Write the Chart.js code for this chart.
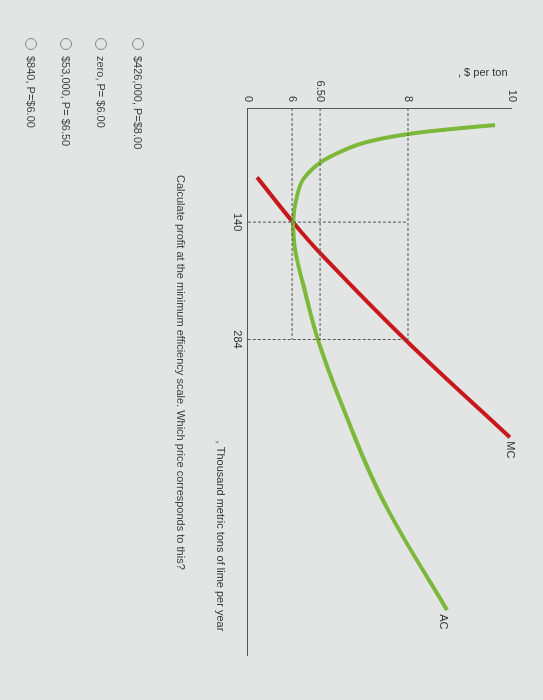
<!DOCTYPE html>
<html><head><meta charset="utf-8">
<script src="https://cdn.jsdelivr.net/npm/chart.js@4"></script>
<style>
html,body{margin:0;padding:0;background:#e3e4e4;width:543px;height:700px;overflow:hidden;font-family:"Liberation Sans",Arial,sans-serif;}
#frame{position:absolute;left:0;top:0;width:700px;height:543px;transform-origin:0 0;transform:translate(543px,0) rotate(90deg);}
#c{position:absolute;left:0;top:0;}
.t{position:absolute;white-space:nowrap;color:#3a3a3a;font-size:11px;}
.o{position:absolute;white-space:nowrap;color:#444;font-size:11px;}
.o span{display:inline-block;width:10px;height:10px;border:1px solid #888;border-radius:50%;margin-right:6px;vertical-align:-2px;}
#ptitle{position:absolute;left:458px;top:66px;font-size:11px;color:#333;}
</style></head><body>
<div id="frame">
<canvas id="c" width="700" height="543"></canvas>
<div class="t" style="left:175px;top:356px">Calculate profit at the minimum efficiency scale. Which price corresponds to this?</div>
<div class="o" style="left:38px;top:399px"><span></span>$426,000, P=$8.00</div>
<div class="o" style="left:38px;top:436px"><span></span>zero, P= $6.00</div>
<div class="o" style="left:38px;top:471px"><span></span>$53,000, P= $6.50</div>
<div class="o" style="left:38px;top:506px"><span></span>$840, P=$6.00</div>
</div>
<div id="ptitle">, $ per ton</div>
<script>
// quantity (thousand metric tons) and price positions
const mcQ = [85, 140, 178, 284, 404];
const mcP = [0.34, 1.70, 2.73, 5.95, 9.92];
const acQ = [21, 24.5, 32, 43, 58, 70, 88, 109, 134, 150, 180, 220, 284, 358, 481, 616];
const acP = [9.36, 8.14, 6.06, 4.36, 3.22, 2.61, 2.08, 1.85, 1.72, 1.71, 1.82, 2.12, 2.65, 3.48, 5.11, 7.54];
const priceTickPos = [0, 1.67, 2.73, 6.06, 10];
const priceTickLabels = ['0', '6', '6.50', '8', '10'];
const qTicks = [140, 284];
const qLabels = ['140', '284'];
const qMax = 671;
const pMax = 10;

const pts = (xs, ys) => xs.map((x, i) => ({x, y: ys[i]}));
const dash = (a, b) => ({data: [a, b], borderColor: '#555', borderWidth: 1, borderDash: [3, 2], pointRadius: 0, showLine: true, fill: false});

const guides = [
  dash({x: 0, y: priceTickPos[3]}, {x: qTicks[1], y: priceTickPos[3]}),
  dash({x: qTicks[0], y: 0}, {x: qTicks[0], y: priceTickPos[3]}),
  dash({x: qTicks[1], y: -0.2}, {x: qTicks[1], y: priceTickPos[3]}),
  dash({x: 0, y: priceTickPos[1]}, {x: qTicks[1], y: priceTickPos[1]}),
  dash({x: 0, y: priceTickPos[2]}, {x: qTicks[1], y: priceTickPos[2]})
];

const endLabels = {
  id: 'endLabels',
  afterDatasetsDraw(ch) {
    const {ctx, scales: {x, y}} = ch;
    ctx.save();
    ctx.fillStyle = '#333';
    ctx.font = '11px "Liberation Sans", Arial, sans-serif';
    ctx.textAlign = 'left';
    ctx.textBaseline = 'middle';
    ctx.fillText('MC', x.getPixelForValue(mcQ[mcQ.length - 1]) + 4, y.getPixelForValue(mcP[mcP.length - 1]));
    ctx.fillText('AC', x.getPixelForValue(acQ[acQ.length - 1]) + 4, y.getPixelForValue(acP[acP.length - 1]) + 4);
    ctx.fillText(', Thousand metric tons of lime per year', x.getPixelForValue(408), y.getPixelForValue(0) + 28);
    ctx.restore();
  }
};

new Chart(document.getElementById('c'), {
  type: 'scatter',
  data: {datasets: [
    ...guides,
    {data: pts(acQ, acP), borderColor: '#7cb83a', borderWidth: 4, showLine: true, tension: 0.4, pointRadius: 0, fill: false},
    {data: pts(mcQ, mcP), borderColor: '#c8181c', borderWidth: 4, showLine: true, tension: 0.4, pointRadius: 0, fill: false}
  ]},
  options: {
    responsive: false, animation: false, devicePixelRatio: 1,
    layout: {padding: {left: 78, right: 45, top: 31, bottom: 228}},
    plugins: {legend: {display: false}, tooltip: {enabled: false}},
    scales: {
      x: {type: 'linear', min: 0, max: qMax,
        afterFit: s => { s.height = 20; },
        afterBuildTicks: s => { s.ticks = qTicks.map(v => ({value: v})); },
        ticks: {callback: (v) => qLabels[qTicks.indexOf(v)] ?? '', color: '#333', font: {size: 11}, padding: 4, maxRotation: 0},
        grid: {display: false, drawTicks: false}, border: {color: '#555', width: 1}},
      y: {type: 'linear', min: 0, max: pMax,
        afterFit: s => { s.width = 30; },
        afterBuildTicks: s => { s.ticks = priceTickPos.map(v => ({value: v})); },
        ticks: {callback: (v) => priceTickLabels[priceTickPos.indexOf(v)] ?? '', color: '#333', font: {size: 11}, padding: 6},
        grid: {display: false, drawTicks: false}, border: {color: '#555', width: 1}}
    }
  },
  plugins: [endLabels]
});
</script>
</body></html>
